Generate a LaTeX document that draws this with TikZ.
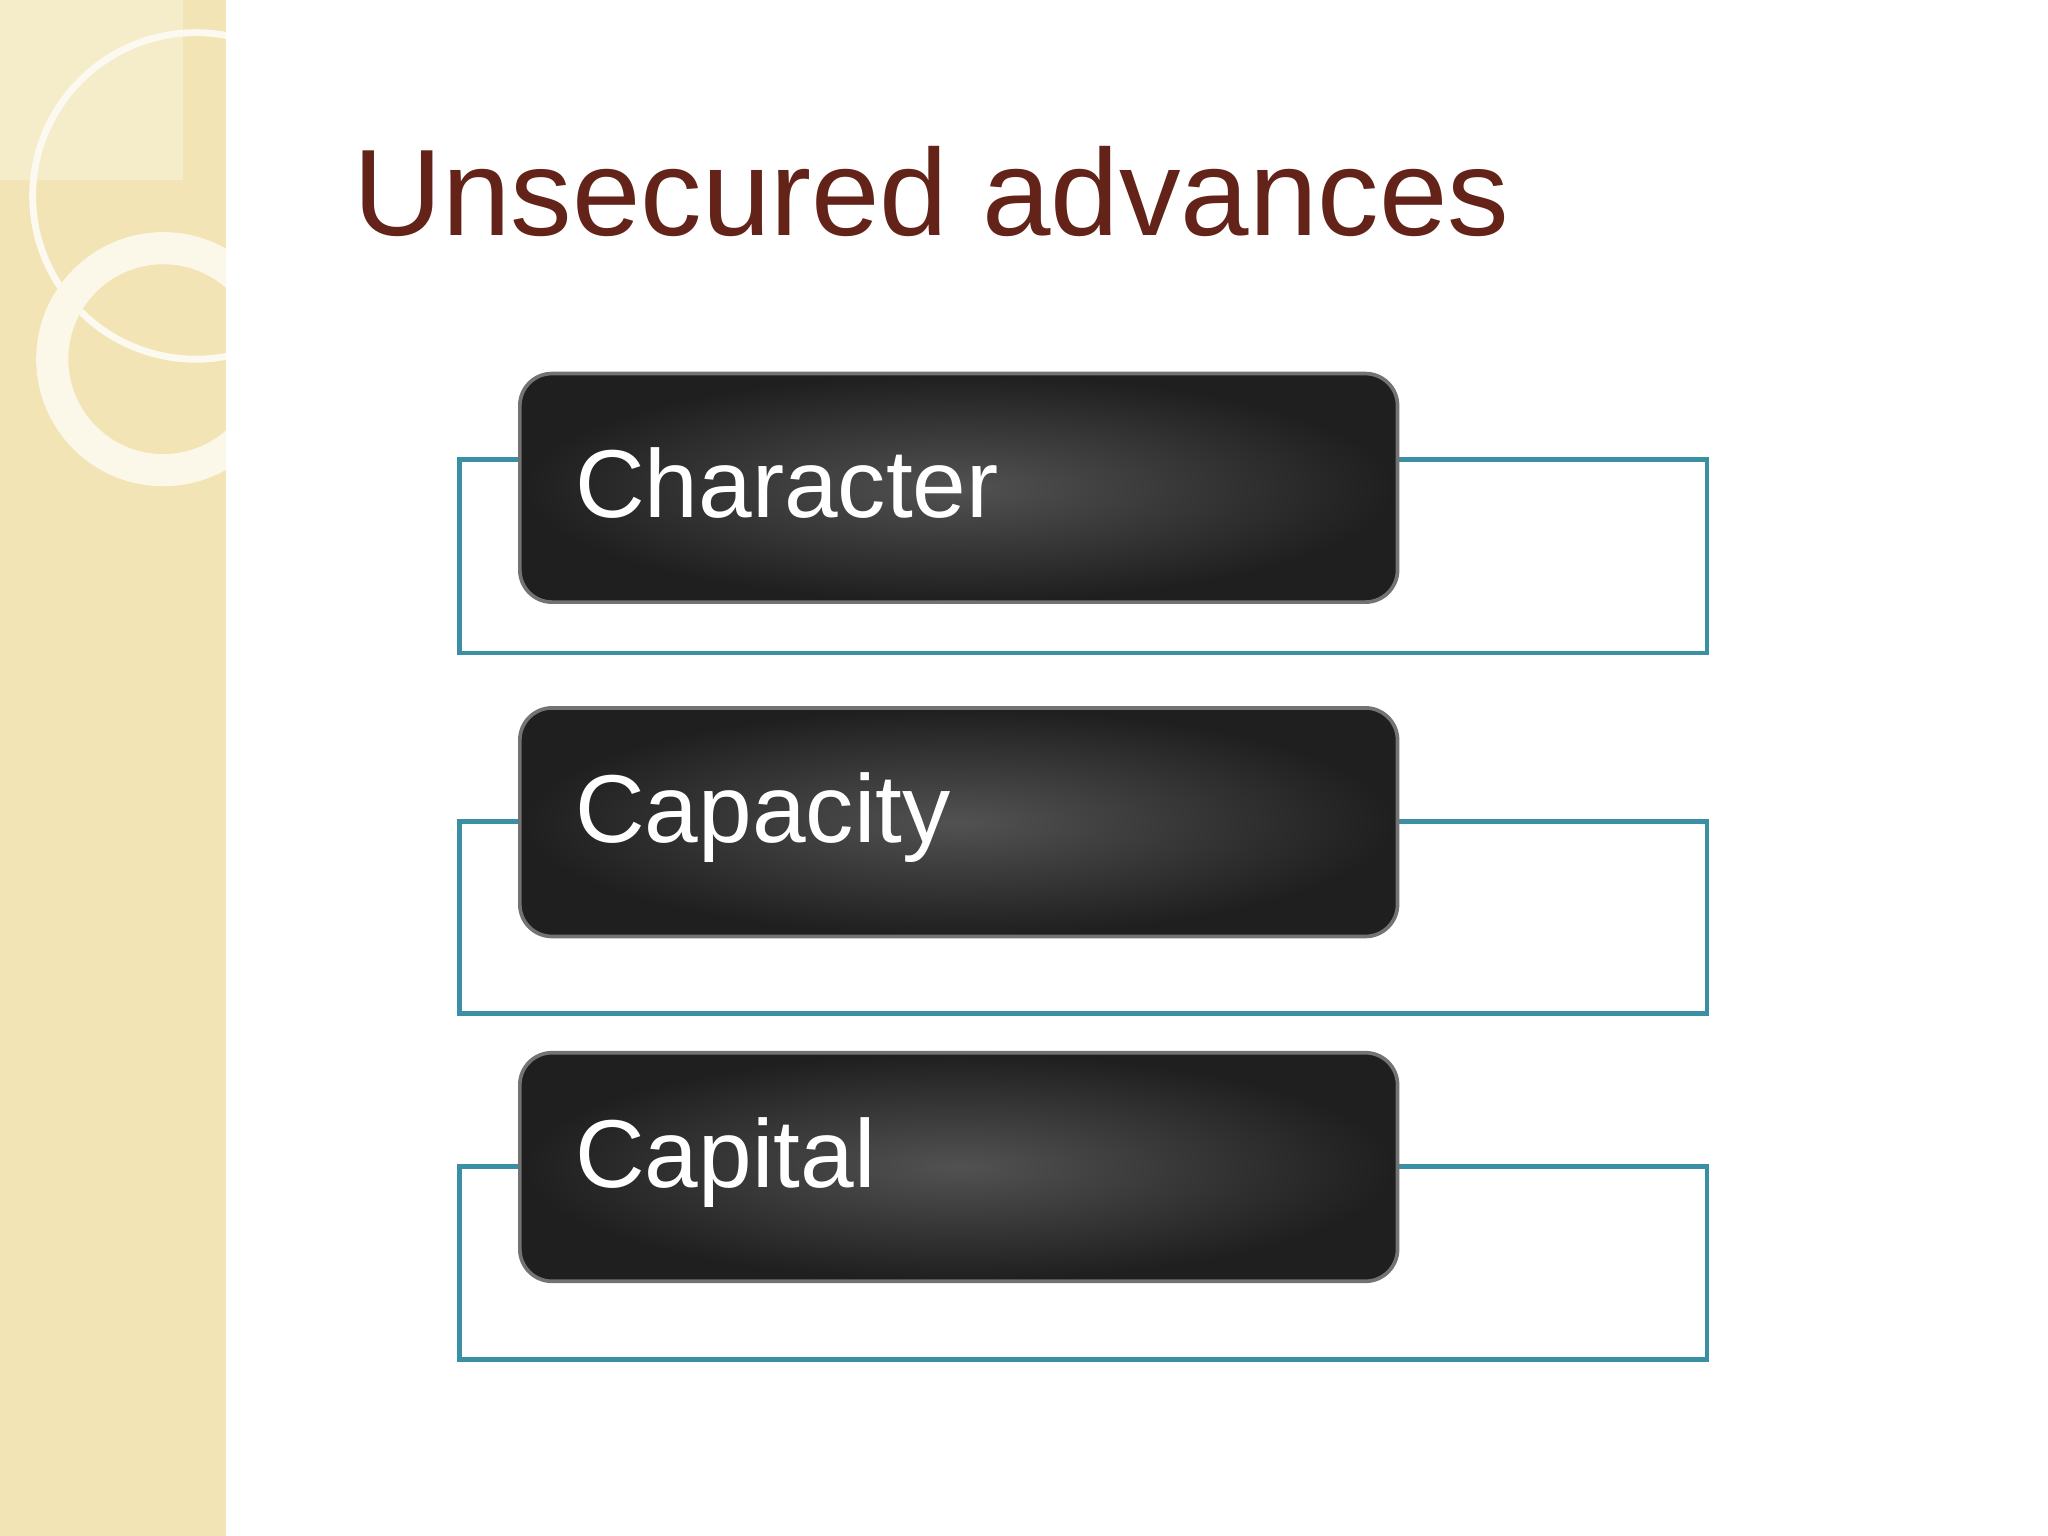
\documentclass[tikz,border=0pt]{standalone}
\usepackage{fontspec}
\setmainfont{Liberation Sans}
\definecolor{strip}{RGB}{242,228,180}
\definecolor{tealline}{RGB}{58,143,163}
\begin{document}
\begin{tikzpicture}[x=0.01cm,y=-0.01cm,
  outl/.style={draw=tealline, line width=1pt},
  dbox/.style={rounded corners=7pt, inner color=black!68, outer color=black!88, draw=black!55, line width=0.8pt},
  lbl/.style={anchor=west, text=white, font=\fontsize{21}{26}\selectfont}]
\useasboundingbox (0,0) rectangle (1568,1176);
\fill[white] (0,0) rectangle (1568,1176);
\fill[strip] (0,0) rectangle (173,1176);
\begin{scope}
\clip (0,0) rectangle (173,1176);
\fill[white,opacity=0.3] (0,0) rectangle (140,138);
\draw[white!80!strip, line width=1.5pt] (150,150) circle (125);
\draw[white!70!strip, line width=7pt] (125,275) circle (85);
\end{scope}
\node[anchor=base west, text={rgb,255:red,100;green,35;blue,25}, font=\fontsize{26.8}{32}\selectfont] (title) at (258,180) {Unsecured advances};
\draw[outl] (352,352) rectangle (1307,500);
\draw[outl] (352,629) rectangle (1307,776);
\draw[outl] (352,893) rectangle (1307,1041);
\path[dbox] (398,286) rectangle (1070,461);
\path[dbox] (398,542) rectangle (1070,717);
\path[dbox] (398,806) rectangle (1070,981);
\node[lbl] (a) at (428,370) {Character};
\node[lbl] (b) at (428,626) {Capacity};
\node[lbl] (c) at (428,890) {Capital};
\end{tikzpicture}
\end{document}
